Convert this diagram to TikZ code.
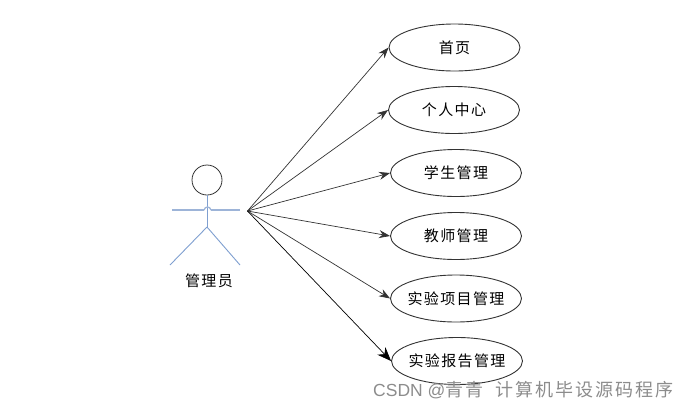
\documentclass[tikz,border=0pt]{standalone}
\usepackage{fontspec}
\usetikzlibrary{shapes.geometric,arrows.meta}
\newfontfamily\cjklabel[LetterSpace=9]{Noto Sans CJK SC}
\newfontfamily\cjkmark[LetterSpace=11]{Noto Sans CJK SC}
\setmainfont{Liberation Sans}
\definecolor{limb}{HTML}{7F9FD0}
\definecolor{armc}{HTML}{9DB4D8}
\definecolor{edge}{HTML}{333333}
\tikzset{
  usecase/.style={draw=edge,ellipse,line width=0.9pt,minimum width=131pt,minimum height=47pt,inner xsep=-20pt,inner ysep=0pt,font=\cjklabel\fontsize{15}{17}\selectfont},
  link/.style={draw=edge,line width=0.7pt,-{Stealth[length=11pt,width=8pt]}},
  biglink/.style={draw=black,line width=0.7pt,-{Stealth[length=14pt,width=11pt]}},
  limbline/.style={draw=limb,line width=0.9pt},
  armline/.style={draw=armc,line width=1.3pt}
}
\begin{document}
\begin{tikzpicture}[x=1pt,y=-1pt]
\useasboundingbox (0,0) rectangle (691,408);
\node[usecase] (e1) at (454.5,47.5) {首页};
\node[usecase] (e2) at (454,110) {个人中心};
\node[usecase] (e3) at (456,173) {学生管理};
\node[usecase] (e4) at (456,236) {教师管理};
\node[usecase] (e5) at (456,298.5) {实验项目管理};
\node[usecase] (e6) at (457,361) {实验报告管理};
\node[circle,draw=edge,line width=0.8pt,minimum size=30pt,inner sep=0pt] (head) at (207,180) {};
\coordinate (hip) at (207,227);
\coordinate (armL) at (172,210);
\coordinate (armR) at (240,210);
\coordinate (bumpL) at (204,210);
\coordinate (bumpR) at (211,210);
\coordinate (footL) at (170,265);
\coordinate (footR) at (240,265);
\coordinate (hub) at (247.5,211);
\draw[limbline] (head.south) -- (hip);
\draw[limbline] (hip) -- (footL);
\draw[limbline] (hip) -- (footR);
\draw[armline] (armL) -- (bumpL);
\draw[armline] (bumpL) .. controls (205,206) and (210,206) .. (bumpR);
\draw[armline] (bumpR) -- (armR);
\node[font=\cjklabel\fontsize{15}{17}\selectfont] (actor) at (209,281) {管理员};
\draw[link] (hub) -- (e1.west);
\draw[link] (hub) -- (e2.west);
\draw[link] (hub) -- (e3.west);
\draw[link] (hub) -- (e4.west);
\draw[link] (hub) -- (e5.west);
\draw[biglink] (hub) -- (e6.west);
\node[anchor=west,inner sep=0pt,text=black!45,font=\fontsize{17.5}{20}\selectfont] (mark) at (373,390) {CSDN @{\cjkmark\fontsize{18}{20}\selectfont 青青\ \ 计算机毕设源码程序}};
\end{tikzpicture}
\end{document}
